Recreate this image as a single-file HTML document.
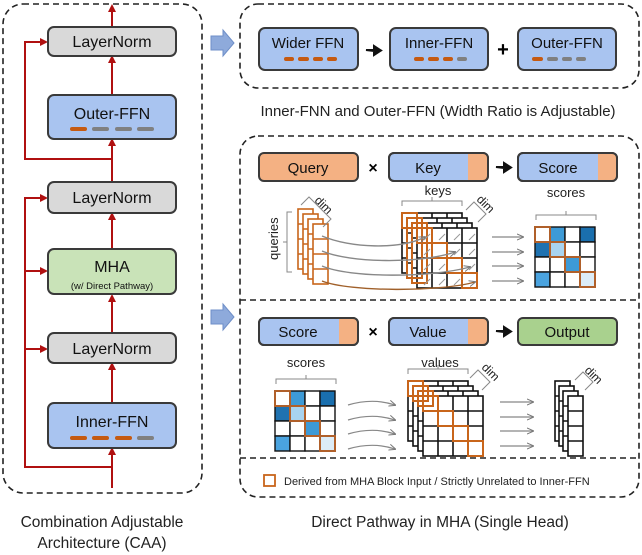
<!DOCTYPE html>
<html><head><meta charset="utf-8"><style>
html,body{margin:0;padding:0;background:#fff;}
svg{display:block;}
text{font-family:"Liberation Sans",sans-serif;}
</style></head><body>
<svg width="642" height="555" viewBox="0 0 642 555" xmlns="http://www.w3.org/2000/svg">
<defs>
<marker id="ra" markerWidth="8" markerHeight="8" refX="6" refY="4" orient="auto" markerUnits="userSpaceOnUse"><path d="M0,0 L8,4 L0,8 z" fill="#b01010"/></marker>
<marker id="ga" markerWidth="7" markerHeight="7" refX="6" refY="3.5" orient="auto" markerUnits="userSpaceOnUse"><path d="M0,0.5 L7,3.5 L0,6.5" fill="none" stroke="#777" stroke-width="1"/></marker>
<g id="grid4">
<rect x="0" y="0" width="60" height="60" fill="#fff" stroke="#111" stroke-width="1.6"/>
<path d="M15,0V60M30,0V60M45,0V60M0,15H60M0,30H60M0,45H60" stroke="#111" stroke-width="1.6"/>
</g>
<g id="col4">
<rect x="0" y="0" width="15" height="60" fill="#fff" stroke="#111" stroke-width="1.6"/>
<path d="M0,15H15M0,30H15M0,45H15" stroke="#111" stroke-width="1.6"/>
</g>
<g id="qcol">
<rect x="0" y="0" width="15" height="60" fill="#fff" stroke="#c8651b" stroke-width="1.6"/>
<path d="M0,15H15M0,30H15M0,45H15" stroke="#c8651b" stroke-width="1.6"/>
</g>
</defs>

<!-- LEFT PANEL -->
<rect x="3" y="4" width="199" height="489" rx="20" fill="none" stroke="#222" stroke-width="1.6" stroke-dasharray="6,4"/>
<g stroke="#b01010" stroke-width="2" fill="none">
<line x1="112" y1="27" x2="112" y2="6" marker-end="url(#ra)"/>
<line x1="112" y1="95" x2="112" y2="57" marker-end="url(#ra)"/>
<line x1="112" y1="182" x2="112" y2="140" marker-end="url(#ra)"/>
<line x1="112" y1="249" x2="112" y2="214" marker-end="url(#ra)"/>
<line x1="112" y1="333" x2="112" y2="296" marker-end="url(#ra)"/>
<line x1="112" y1="403" x2="112" y2="364" marker-end="url(#ra)"/>
<line x1="112" y1="488" x2="112" y2="449" marker-end="url(#ra)"/>
<path d="M112,159 H25 V42 H46" marker-end="url(#ra)"/>
<path d="M112,467 H25 V198 H46" marker-end="url(#ra)"/>
<line x1="25" y1="271" x2="46" y2="271" marker-end="url(#ra)"/>
<line x1="25" y1="349" x2="46" y2="349" marker-end="url(#ra)"/>
</g>
<g stroke="#3a3a3a" stroke-width="2">
<rect x="48" y="27" width="128" height="29" rx="6" fill="#d9d9d9"/>
<rect x="48" y="95" width="128" height="44" rx="6" fill="#a9c4f0"/>
<rect x="48" y="182" width="128" height="31" rx="6" fill="#d9d9d9"/>
<rect x="48" y="249" width="128" height="45" rx="6" fill="#c9e3b8"/>
<rect x="48" y="333" width="128" height="30" rx="6" fill="#d9d9d9"/>
<rect x="48" y="403" width="128" height="45" rx="6" fill="#a9c4f0"/>
</g>
<g font-size="16" text-anchor="middle" fill="#111">
<text x="112" y="47">LayerNorm</text>
<text x="112" y="119">Outer-FFN</text>
<text x="112" y="203">LayerNorm</text>
<text x="112" y="272">MHA</text>
<text x="112" y="289" font-size="9.5">(w/ Direct Pathway)</text>
<text x="112" y="354">LayerNorm</text>
<text x="112" y="427">Inner-FFN</text>
</g>
<g stroke-width="4" stroke-linecap="round">
<line x1="72" y1="129" x2="85" y2="129" stroke="#c55a11"/>
<line x1="94" y1="129" x2="107" y2="129" stroke="#808080"/>
<line x1="117" y1="129" x2="130" y2="129" stroke="#808080"/>
<line x1="139" y1="129" x2="152" y2="129" stroke="#808080"/>
<line x1="72" y1="438" x2="85" y2="438" stroke="#c55a11"/>
<line x1="94" y1="438" x2="107" y2="438" stroke="#c55a11"/>
<line x1="117" y1="438" x2="130" y2="438" stroke="#c55a11"/>
<line x1="139" y1="438" x2="152" y2="438" stroke="#808080"/>
</g>
<text x="102" y="527" font-size="15.5" text-anchor="middle" fill="#222">Combination Adjustable</text>
<text x="102" y="548" font-size="15.5" text-anchor="middle" fill="#222">Architecture (CAA)</text>

<!-- blue arrows -->
<path d="M211,36 H223 V30 L234,43 L223,56 V50 H211 z" fill="#8eaadb" stroke="#6f8fc8" stroke-width="1"/>
<path d="M211,310 H223 V304 L234,317 L223,330 V324 H211 z" fill="#8eaadb" stroke="#6f8fc8" stroke-width="1"/>

<!-- TOP RIGHT -->
<rect x="240" y="4" width="399" height="84" rx="18" fill="none" stroke="#222" stroke-width="1.6" stroke-dasharray="6,4"/>
<g stroke="#3a3a3a" stroke-width="2" fill="#a9c4f0">
<rect x="259" y="28" width="99" height="42" rx="6"/>
<rect x="390" y="28" width="98" height="42" rx="6"/>
<rect x="518" y="28" width="98" height="42" rx="6"/>
</g>
<g font-size="15" text-anchor="middle" fill="#111">
<text x="308" y="48">Wider FFN</text>
<text x="439" y="48">Inner-FFN</text>
<text x="567" y="48">Outer-FFN</text>
</g>
<g stroke-width="4" stroke-linecap="round">
<line x1="286" y1="59" x2="292" y2="59" stroke="#c55a11"/>
<line x1="300" y1="59" x2="307" y2="59" stroke="#c55a11"/>
<line x1="315" y1="59" x2="321" y2="59" stroke="#c55a11"/>
<line x1="329" y1="59" x2="335" y2="59" stroke="#c55a11"/>
<line x1="416" y1="59" x2="422" y2="59" stroke="#c55a11"/>
<line x1="430" y1="59" x2="437" y2="59" stroke="#c55a11"/>
<line x1="445" y1="59" x2="451" y2="59" stroke="#c55a11"/>
<line x1="459" y1="59" x2="465" y2="59" stroke="#808080"/>
<line x1="534" y1="59" x2="541" y2="59" stroke="#c55a11"/>
<line x1="549" y1="59" x2="556" y2="59" stroke="#808080"/>
<line x1="564" y1="59" x2="570" y2="59" stroke="#808080"/>
<line x1="578" y1="59" x2="584" y2="59" stroke="#808080"/>
</g>
<path d="M366,50 H374 V46 L381,50.5 L374,55 V51z" fill="#111" stroke="#111" stroke-width="2"/>
<text x="503" y="56" font-size="20" font-weight="bold" text-anchor="middle">+</text>
<text x="438" y="116" font-size="15" text-anchor="middle" fill="#222">Inner-FNN and Outer-FFN (Width Ratio is Adjustable)</text>

<!-- BOTTOM RIGHT PANEL -->
<rect x="240" y="136" width="399" height="361" rx="18" fill="none" stroke="#222" stroke-width="1.6" stroke-dasharray="6,4"/>
<line x1="240" y1="300" x2="639" y2="300" stroke="#222" stroke-width="1.6" stroke-dasharray="6,4"/>
<line x1="240" y1="458" x2="639" y2="458" stroke="#222" stroke-width="1.6" stroke-dasharray="6,4"/>

<!-- Row 1 boxes -->
<g stroke="#3a3a3a" stroke-width="2">
<rect x="259" y="153" width="99" height="28" rx="5" fill="#f4b183"/>
<rect x="389" y="153" width="99" height="28" rx="5" fill="#a9c4f0"/>
<rect x="518" y="153" width="99" height="28" rx="5" fill="#a9c4f0"/>
</g>
<rect x="468" y="154" width="19" height="26" fill="#f4b183"/>
<rect x="598" y="154" width="18" height="26" fill="#f4b183"/>
<rect x="389" y="153" width="99" height="28" rx="5" fill="none" stroke="#3a3a3a" stroke-width="2"/>
<rect x="518" y="153" width="99" height="28" rx="5" fill="none" stroke="#3a3a3a" stroke-width="2"/>
<g font-size="15" text-anchor="middle" fill="#111">
<text x="308" y="173">Query</text>
<text x="428" y="173">Key</text>
<text x="558" y="173">Score</text>
</g>
<text x="373" y="173" font-size="16" font-weight="bold" text-anchor="middle">×</text>
<path d="M496,167 H504 V163 L511,167.5 L504,172 V168z" fill="#111" stroke="#111" stroke-width="2"/>

<!-- Row 2 boxes -->
<g stroke="#3a3a3a" stroke-width="2">
<rect x="259" y="318" width="99" height="27" rx="5" fill="#a9c4f0"/>
<rect x="389" y="318" width="99" height="27" rx="5" fill="#a9c4f0"/>
<rect x="518" y="318" width="99" height="27" rx="5" fill="#a9d18e"/>
</g>
<rect x="339" y="319" width="18" height="25" fill="#f4b183"/>
<rect x="468" y="319" width="19" height="25" fill="#f4b183"/>
<rect x="259" y="318" width="99" height="27" rx="5" fill="none" stroke="#3a3a3a" stroke-width="2"/>
<rect x="389" y="318" width="99" height="27" rx="5" fill="none" stroke="#3a3a3a" stroke-width="2"/>
<g font-size="15" text-anchor="middle" fill="#111">
<text x="298" y="337">Score</text>
<text x="428" y="337">Value</text>
<text x="567" y="337">Output</text>
</g>
<text x="373" y="337" font-size="16" font-weight="bold" text-anchor="middle">×</text>
<path d="M496,331 H504 V327 L511,331.5 L504,336 V332z" fill="#111" stroke="#111" stroke-width="2"/>

<!-- Top diagram: queries -->
<use href="#qcol" x="298" y="209"/>
<use href="#qcol" x="303" y="214"/>
<use href="#qcol" x="308" y="219"/>
<use href="#qcol" x="313" y="224"/>
<path d="M292,212 h-5 v60 h5 M287,242 h-4" fill="none" stroke="#888" stroke-width="1"/>
<path d="M301,205 l8,-8 l22,22 l-8,8" fill="none" stroke="#888" stroke-width="1"/>
<text x="0" y="0" font-size="13" fill="#222" transform="translate(278,260) rotate(-90)">queries</text>
<text x="0" y="0" font-size="12" fill="#222" transform="translate(314,201) rotate(45)">dim</text>

<!-- keys stack -->
<use href="#grid4" x="402" y="213"/>
<use href="#grid4" x="407" y="218"/>
<use href="#grid4" x="412" y="223"/>
<use href="#grid4" x="417" y="228"/>
<g fill="none" stroke="#c8651b" stroke-width="2">
<rect x="402" y="213" width="15" height="15"/>
<rect x="407" y="218" width="15" height="60"/>
<rect x="412" y="223" width="15" height="60"/>
<rect x="417" y="228" width="15" height="15"/>
<rect x="432" y="243" width="15" height="15"/>
<rect x="447" y="258" width="15" height="15"/>
<rect x="462" y="273" width="15" height="15"/>
</g>
<path d="M402,206 v-5 h60 v5 M432,201 v-4" fill="none" stroke="#888" stroke-width="1"/>
<text x="438" y="195" font-size="13" text-anchor="middle" fill="#222">keys</text>
<path d="M466,210 l8,-8 l12,12 l-8,8" fill="none" stroke="#888" stroke-width="1"/>
<text x="0" y="0" font-size="12" fill="#222" transform="translate(476,200) rotate(45)">dim</text>

<!-- curved arrows queries->keys -->
<g fill="none" stroke="#888" stroke-width="1.4">
<path d="M322,236 C350,248 400,250 425,237" marker-end="url(#ga)"/>
<path d="M322,251 C350,263 420,264 455,252" marker-end="url(#ga)"/>
<path d="M322,266 C350,278 430,278 470,267" marker-end="url(#ga)"/>
<path d="M322,281 C350,292 440,292 475,282" marker-end="url(#ga)" stroke="#a0602a"/>
</g>
<g stroke="#999" stroke-width="1" fill="none">
<path d="M424,240 l6,-6 M439,240 l6,-6 M454,240 l6,-6 M469,240 l6,-6 M424,255 l6,-6 M454,255 l6,-6 M469,255 l6,-6 M424,270 l6,-6 M439,270 l6,-6 M469,270 l6,-6 M424,285 l6,-6 M439,285 l6,-6 M454,285 l6,-6"/>
</g>
<g stroke="#888" stroke-width="1.2" fill="none">
<line x1="492" y1="237" x2="523" y2="237" marker-end="url(#ga)"/>
<line x1="492" y1="252" x2="523" y2="252" marker-end="url(#ga)"/>
<line x1="492" y1="266" x2="523" y2="266" marker-end="url(#ga)"/>
<line x1="492" y1="281" x2="523" y2="281" marker-end="url(#ga)"/>
</g>
<!-- scores grid top -->
<g stroke="#111" stroke-width="1.4">
<rect x="535" y="227" width="15" height="15" fill="#fff"/>
<rect x="550" y="227" width="15" height="15" fill="#3d9ad6"/>
<rect x="565" y="227" width="15" height="15" fill="#fff"/>
<rect x="580" y="227" width="15" height="15" fill="#1a6fae"/>
<rect x="535" y="242" width="15" height="15" fill="#1f72b0"/>
<rect x="550" y="242" width="15" height="15" fill="#a8d3ef"/>
<rect x="565" y="242" width="15" height="15" fill="#fff"/>
<rect x="580" y="242" width="15" height="15" fill="#fff"/>
<rect x="535" y="257" width="15" height="15" fill="#fff"/>
<rect x="550" y="257" width="15" height="15" fill="#fff"/>
<rect x="565" y="257" width="15" height="15" fill="#3d9ad6"/>
<rect x="580" y="257" width="15" height="15" fill="#fff"/>
<rect x="535" y="272" width="15" height="15" fill="#4aa3df"/>
<rect x="550" y="272" width="15" height="15" fill="#fff"/>
<rect x="565" y="272" width="15" height="15" fill="#fff"/>
<rect x="580" y="272" width="15" height="15" fill="#dcecf7"/>
</g>
<g fill="none" stroke="#b0602a" stroke-width="2">
<rect x="535" y="227" width="15" height="15"/><rect x="550" y="242" width="15" height="15"/><rect x="565" y="257" width="15" height="15"/><rect x="580" y="272" width="15" height="15"/>
</g>
<path d="M536,220 v-5 h60 v5 M566,215 v-4" fill="none" stroke="#888" stroke-width="1"/>
<text x="566" y="197" font-size="13" text-anchor="middle" fill="#222">scores</text>

<!-- Bottom diagram: scores grid -->
<g stroke="#111" stroke-width="1.4">
<rect x="275" y="391" width="15" height="15" fill="#fff"/>
<rect x="290" y="391" width="15" height="15" fill="#3d9ad6"/>
<rect x="305" y="391" width="15" height="15" fill="#fff"/>
<rect x="320" y="391" width="15" height="15" fill="#1a6fae"/>
<rect x="275" y="406" width="15" height="15" fill="#1f72b0"/>
<rect x="290" y="406" width="15" height="15" fill="#a8d3ef"/>
<rect x="305" y="406" width="15" height="15" fill="#fff"/>
<rect x="320" y="406" width="15" height="15" fill="#fff"/>
<rect x="275" y="421" width="15" height="15" fill="#fff"/>
<rect x="290" y="421" width="15" height="15" fill="#fff"/>
<rect x="305" y="421" width="15" height="15" fill="#3d9ad6"/>
<rect x="320" y="421" width="15" height="15" fill="#fff"/>
<rect x="275" y="436" width="15" height="15" fill="#4aa3df"/>
<rect x="290" y="436" width="15" height="15" fill="#fff"/>
<rect x="305" y="436" width="15" height="15" fill="#fff"/>
<rect x="320" y="436" width="15" height="15" fill="#dcecf7"/>
</g>
<g fill="none" stroke="#b0602a" stroke-width="2">
<rect x="275" y="391" width="15" height="15"/><rect x="290" y="406" width="15" height="15"/><rect x="305" y="421" width="15" height="15"/><rect x="320" y="436" width="15" height="15"/>
</g>
<path d="M276,384 v-5 h60 v5 M306,379 v-4" fill="none" stroke="#888" stroke-width="1"/>
<text x="306" y="367" font-size="13" text-anchor="middle" fill="#222">scores</text>

<g fill="none" stroke="#888" stroke-width="1.2">
<path d="M348,405 C365,400 380,400 395,405" marker-end="url(#ga)"/>
<path d="M348,420 C365,415 380,415 395,420" marker-end="url(#ga)"/>
<path d="M348,434 C365,429 380,429 395,434" marker-end="url(#ga)"/>
<path d="M348,449 C365,444 380,444 395,449" marker-end="url(#ga)"/>
</g>

<!-- values stack -->
<use href="#grid4" x="408" y="381"/>
<use href="#grid4" x="413" y="386"/>
<use href="#grid4" x="418" y="391"/>
<use href="#grid4" x="423" y="396"/>
<g fill="none" stroke="#c8651b" stroke-width="2">
<rect x="408" y="381" width="15" height="15"/>
<rect x="413" y="386" width="15" height="15"/>
<rect x="418" y="391" width="15" height="15"/>
<rect x="423" y="396" width="15" height="15"/>
<rect x="438" y="411" width="15" height="15"/>
<rect x="453" y="426" width="15" height="15"/>
<rect x="468" y="441" width="15" height="15"/>
</g>
<path d="M408,374 v-5 h60 v5 M438,369 v-4" fill="none" stroke="#888" stroke-width="1"/>
<text x="440" y="367" font-size="13" text-anchor="middle" fill="#222">values</text>
<path d="M470,378 l8,-8 l12,12 l-8,8" fill="none" stroke="#888" stroke-width="1"/>
<text x="0" y="0" font-size="12" fill="#222" transform="translate(481,368) rotate(45)">dim</text>

<g stroke="#888" stroke-width="1.2" fill="none">
<line x1="500" y1="402" x2="533" y2="402" marker-end="url(#ga)"/>
<line x1="500" y1="417" x2="533" y2="417" marker-end="url(#ga)"/>
<line x1="500" y1="431" x2="533" y2="431" marker-end="url(#ga)"/>
<line x1="500" y1="446" x2="533" y2="446" marker-end="url(#ga)"/>
</g>

<!-- output stack -->
<use href="#col4" x="555" y="381"/>
<use href="#col4" x="559" y="386"/>
<use href="#col4" x="563" y="391"/>
<use href="#col4" x="568" y="396"/>
<path d="M575,380 l8,-8 l10,10 l-8,8" fill="none" stroke="#888" stroke-width="1"/>
<text x="0" y="0" font-size="12" fill="#222" transform="translate(584,371) rotate(45)">dim</text>

<!-- legend -->
<rect x="264" y="475" width="11" height="11" fill="none" stroke="#c8651b" stroke-width="1.8"/>
<text x="284" y="485" font-size="11" fill="#222">Derived from MHA Block Input / Strictly Unrelated to Inner-FFN</text>

<text x="440" y="527" font-size="15.5" text-anchor="middle" fill="#222">Direct Pathway in MHA (Single Head)</text>
</svg>
</body></html>
